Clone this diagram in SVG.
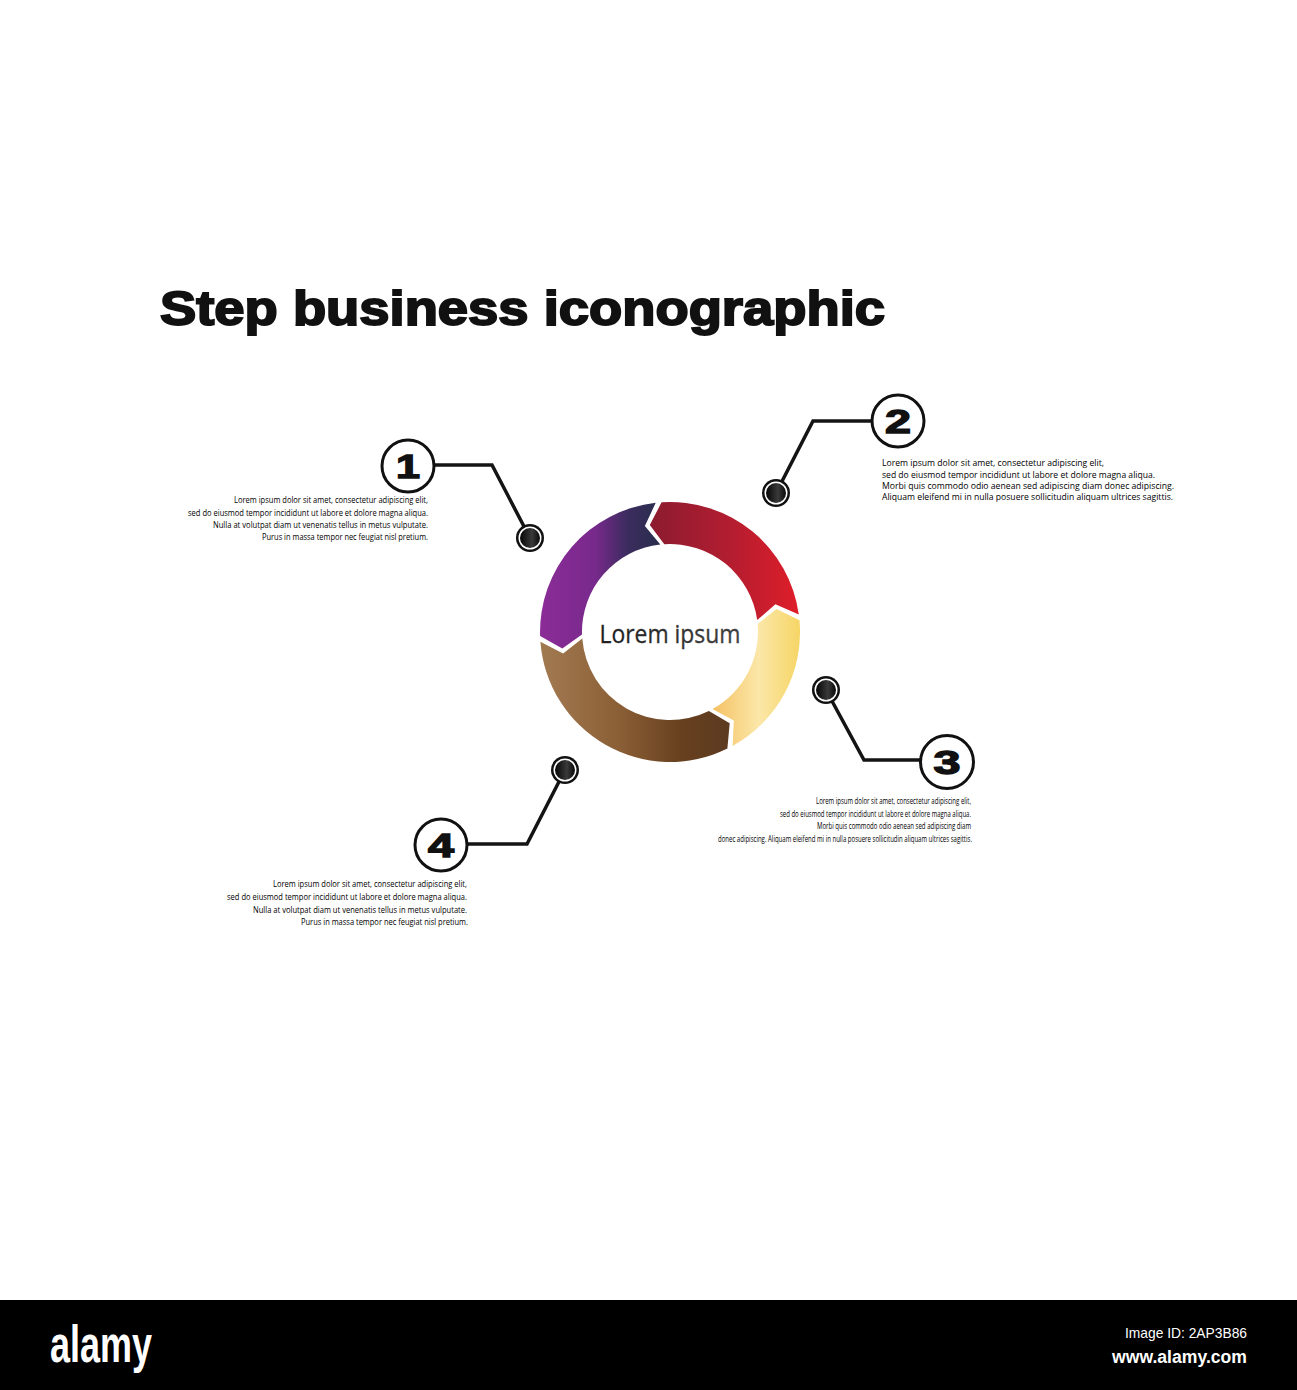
<svg xmlns="http://www.w3.org/2000/svg" width="1297" height="1390" viewBox="0 0 1297 1390">
<defs>
<linearGradient id="gPurple" gradientUnits="userSpaceOnUse" x1="540" y1="0" x2="662" y2="0">
<stop offset="0" stop-color="#8B2C97"/><stop offset="0.45" stop-color="#78298C"/><stop offset="0.72" stop-color="#3B2C5E"/><stop offset="1" stop-color="#282E4C"/>
</linearGradient>
<linearGradient id="gRed" gradientUnits="userSpaceOnUse" x1="650" y1="0" x2="800" y2="0">
<stop offset="0" stop-color="#8C1B30"/><stop offset="0.5" stop-color="#B01D30"/><stop offset="1" stop-color="#E01E2A"/>
</linearGradient>
<linearGradient id="gYellow" gradientUnits="userSpaceOnUse" x1="708" y1="0" x2="800" y2="0">
<stop offset="0" stop-color="#F4BD5C"/><stop offset="0.55" stop-color="#FBE7A8"/><stop offset="1" stop-color="#F6D565"/>
</linearGradient>
<linearGradient id="gBrown" gradientUnits="userSpaceOnUse" x1="540" y1="0" x2="732" y2="0">
<stop offset="0" stop-color="#A27A52"/><stop offset="0.4" stop-color="#8C6037"/><stop offset="0.75" stop-color="#663F1E"/><stop offset="1" stop-color="#5C3B22"/>
</linearGradient>
<linearGradient id="gDot" x1="0" y1="0" x2="1" y2="0">
<stop offset="0" stop-color="#050505"/><stop offset="0.6" stop-color="#3a3a3a"/><stop offset="1" stop-color="#080808"/>
</linearGradient>
<linearGradient id="gText" x1="0" y1="0" x2="1" y2="0">
<stop offset="0" stop-color="#1a1a1a"/><stop offset="1" stop-color="#444"/>
</linearGradient>
</defs>
<style>
.num-ring{fill:#fff;stroke:#111;stroke-width:3}
.num{font-family:"Liberation Sans",Arial,sans-serif;font-weight:900;font-size:33px;fill:#111;stroke:#111;stroke-width:1.4;text-anchor:middle}
.dot-out{fill:#111}
.dot-gap{fill:#fff}
.dot{fill:url(#gDot)}
.conn{fill:none;stroke:#141414;stroke-width:3.5;stroke-linejoin:miter}
.body{font-family:"Open Sans","Noto Sans",sans-serif;font-size:8.8px;fill:#000}
.r{text-anchor:end}
</style>
<rect x="0" y="0" width="1297" height="1390" fill="#fff"/>
<text id="title" x="160" y="325" font-family="'Liberation Sans',Arial,sans-serif" font-weight="900" font-size="49" fill="#111" stroke="#111" stroke-width="2" textLength="725" lengthAdjust="spacingAndGlyphs">Step business iconographic</text>

<g id="ring">
<path id="seg-purple" fill="url(#gPurple)" d="M540.1,635.9 A130,130 0 0 1 655.7,502.8 L644.9,525.9 L660.3,544.5 A88,88 0 0 0 582.0,634.6 L562.3,648.5 Z"/>
<path id="seg-red" fill="url(#gRed)" d="M661.6,502.3 A130,130 0 0 1 798.8,614.4 L775.4,604.2 L757.2,620.1 A88,88 0 0 0 664.3,544.2 L649.8,524.9 Z"/>
<path id="seg-yellow" fill="url(#gYellow)" d="M799.5,620.2 A130,130 0 0 1 732.6,745.9 L733.8,720.4 L712.4,709.1 A88,88 0 0 0 757.6,624.0 L776.5,609.0 Z"/>
<path id="seg-brown" fill="url(#gBrown)" d="M727.4,748.6 A130,130 0 0 1 540.4,641.7 L563.1,653.4 L582.3,638.6 A88,88 0 0 0 708.9,711.0 L729.7,723.2 Z"/>
<text x="670" y="643" text-anchor="middle" font-family="'Open Sans','Noto Sans',sans-serif" font-size="25" fill="url(#gText)" stroke="#333" stroke-width="0.3" textLength="141" lengthAdjust="spacingAndGlyphs">Lorem ipsum</text>
</g>

<g id="connectors">
<polyline class="conn" points="435,465 492,465 530,538"/>
<polyline class="conn" points="872,421 813,421 776,493"/>
<polyline class="conn" points="920,760 864,760 826,690"/>
<polyline class="conn" points="468,844 527,844 565,770"/>
</g>

<g id="step1">
<circle class="num-ring" cx="408" cy="466" r="26"/>
<text class="num" x="408" y="478" textLength="24" lengthAdjust="spacingAndGlyphs">1</text>
<circle class="dot-out" cx="530" cy="538" r="14"/>
<circle class="dot-gap" cx="530" cy="538" r="11.5"/>
<circle class="dot" cx="530" cy="538" r="10"/>
<text class="body r" x="428" y="503" textLength="194" lengthAdjust="spacingAndGlyphs">Lorem ipsum dolor sit amet, consectetur adipiscing elit,</text>
<text class="body r" x="428" y="516" textLength="240" lengthAdjust="spacingAndGlyphs">sed do eiusmod tempor incididunt ut labore et dolore magna aliqua.</text>
<text class="body r" x="428" y="528" textLength="215" lengthAdjust="spacingAndGlyphs">Nulla at volutpat diam ut venenatis tellus in metus vulputate.</text>
<text class="body r" x="428" y="540" textLength="166" lengthAdjust="spacingAndGlyphs">Purus in massa tempor nec feugiat nisl pretium.</text>
</g>

<g id="step2">
<circle class="num-ring" cx="898" cy="421" r="26"/>
<text class="num" x="898" y="433" textLength="26" lengthAdjust="spacingAndGlyphs">2</text>
<circle class="dot-out" cx="776" cy="493" r="14"/>
<circle class="dot-gap" cx="776" cy="493" r="11.5"/>
<circle class="dot" cx="776" cy="493" r="10"/>
<text class="body" x="882" y="466" textLength="222" lengthAdjust="spacingAndGlyphs">Lorem ipsum dolor sit amet, consectetur adipiscing elit,</text>
<text class="body" x="882" y="478" textLength="273" lengthAdjust="spacingAndGlyphs">sed do eiusmod tempor incididunt ut labore et dolore magna aliqua.</text>
<text class="body" x="882" y="489" textLength="292" lengthAdjust="spacingAndGlyphs">Morbi quis commodo odio aenean sed adipiscing diam donec adipiscing.</text>
<text class="body" x="882" y="500" textLength="291" lengthAdjust="spacingAndGlyphs">Aliquam eleifend mi in nulla posuere sollicitudin aliquam ultrices sagittis.</text>
</g>

<g id="step3">
<circle class="num-ring" cx="947" cy="762" r="26.5"/>
<text class="num" x="947" y="774" textLength="27" lengthAdjust="spacingAndGlyphs">3</text>
<circle class="dot-out" cx="826" cy="690" r="14"/>
<circle class="dot-gap" cx="826" cy="690" r="11.5"/>
<circle class="dot" cx="826" cy="690" r="10"/>
<text class="body r" x="971" y="804" textLength="155" lengthAdjust="spacingAndGlyphs">Lorem ipsum dolor sit amet, consectetur adipiscing elit,</text>
<text class="body r" x="971" y="817" textLength="191" lengthAdjust="spacingAndGlyphs">sed do eiusmod tempor incididunt ut labore et dolore magna aliqua.</text>
<text class="body r" x="971" y="829" textLength="154" lengthAdjust="spacingAndGlyphs">Morbi quis commodo odio aenean sed adipiscing diam</text>
<text class="body r" x="972" y="842" textLength="254" lengthAdjust="spacingAndGlyphs">donec adipiscing. Aliquam eleifend mi in nulla posuere sollicitudin aliquam ultrices sagittis.</text>
</g>

<g id="step4">
<circle class="num-ring" cx="441" cy="845" r="26"/>
<text class="num" x="441" y="857" textLength="26" lengthAdjust="spacingAndGlyphs">4</text>
<circle class="dot-out" cx="565" cy="770" r="14"/>
<circle class="dot-gap" cx="565" cy="770" r="11.5"/>
<circle class="dot" cx="565" cy="770" r="10"/>
<text class="body r" x="467" y="887" textLength="194" lengthAdjust="spacingAndGlyphs">Lorem ipsum dolor sit amet, consectetur adipiscing elit,</text>
<text class="body r" x="467" y="900" textLength="240" lengthAdjust="spacingAndGlyphs">sed do eiusmod tempor incididunt ut labore et dolore magna aliqua.</text>
<text class="body r" x="467" y="913" textLength="214" lengthAdjust="spacingAndGlyphs">Nulla at volutpat diam ut venenatis tellus in metus vulputate.</text>
<text class="body r" x="468" y="925" textLength="167" lengthAdjust="spacingAndGlyphs">Purus in massa tempor nec feugiat nisl pretium.</text>
</g>

<g id="footer">
<rect x="0" y="1300" width="1297" height="90" fill="#000"/>
<text x="50" y="1362" font-family="'Liberation Sans',Arial,sans-serif" font-weight="700" font-size="52" fill="#fff" textLength="102" lengthAdjust="spacingAndGlyphs">alamy</text>
<text x="1247" y="1338" text-anchor="end" font-family="'Liberation Sans',Arial,sans-serif" font-size="15" fill="#fff" textLength="122" lengthAdjust="spacingAndGlyphs">Image ID: 2AP3B86</text>
<text x="1247" y="1363" text-anchor="end" font-family="'Liberation Sans',Arial,sans-serif" font-weight="700" font-size="18" fill="#fff" textLength="135" lengthAdjust="spacingAndGlyphs">www.alamy.com</text>
</g>
</svg>
